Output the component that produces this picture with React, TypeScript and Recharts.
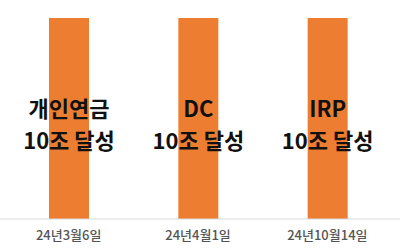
import React from "react";
import { BarChart, Bar, XAxis, YAxis, LabelList } from "recharts";

const dates = ["24년3월6일", "24년4월1일", "24년10월14일"];
const titles = ["개인연금", "DC", "IRP"];
const subtitles = ["10조 달성", "10조 달성", "10조 달성"];
const amounts = [10, 10, 10];

const data = dates.map((d, i) => ({
  date: d,
  amount: amounts[i],
  label: `${titles[i]}|${subtitles[i]}`
}));

const font = "'Noto Sans CJK KR', 'Noto Sans', sans-serif";

const BigLabel = (props: any) => {
  const { x, y, width, height, value } = props;
  const [l1, l2] = String(value).split("|");
  const cx = x + width / 2;
  const mid = y + height / 2;
  return (
    <text x={cx} y={mid - 12} textAnchor="middle" dominantBaseline="central"
      fontFamily={font} fontSize={22} fontWeight={700} fill="#111">
      <tspan x={cx}>{l1}</tspan>
      <tspan x={cx} dy={32}>{l2}</tspan>
    </text>
  );
};

const App: React.FC = () => {
  return (
    <div style={{ position: "fixed", left: 0, top: 0, background: "#fff" }}>
      <BarChart width={400} height={250} data={data}
        margin={{ top: 18, right: 0, bottom: 0, left: 0 }} barSize={40}>
        <XAxis dataKey="date" height={31} padding={{ left: 4, right: 8 }}
          axisLine={{ stroke: "#d9d9d9" }} tickLine={false}
          tick={{ fontFamily: font, fontSize: 13, fontWeight: 500, fill: "#555" }}
          tickMargin={6} />
        <YAxis hide domain={[0, 10]} />
        <Bar dataKey="amount" fill="#ED7D31" isAnimationActive={false}>
          <LabelList dataKey="label" content={<BigLabel />} />
        </Bar>
      </BarChart>
    </div>
  );
};

export default App;
